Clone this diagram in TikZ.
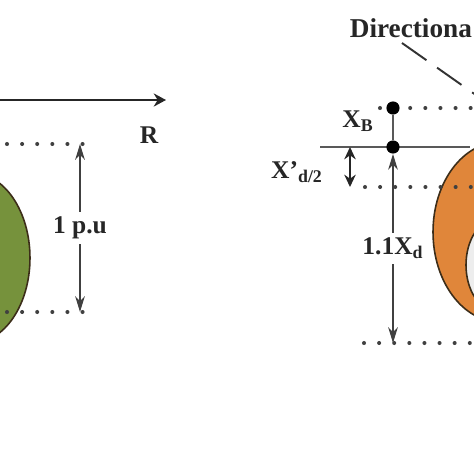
\documentclass[tikz,border=0pt]{standalone}
\usepackage{fontspec}
\setmainfont{Liberation Serif}
\usetikzlibrary{arrows.meta, positioning, calc}

\definecolor{rotorgreen}{RGB}{118,146,60}
\definecolor{rotororange}{RGB}{224,134,58}
\definecolor{rimdark}{RGB}{60,45,25}

\begin{document}
\begin{tikzpicture}[
  x=0.02cm, y=-0.02cm,
  lbl/.style={font=\fontsize{14.5}{17}\selectfont\bfseries, inner sep=1pt, text=black!85},
  axisarrow/.style={-{Stealth[length=7pt, width=7.5pt]}, line width=1.4pt, black!85},
  dimarrow/.style={{Stealth[length=9pt, width=5.5pt]}-{Stealth[length=9pt, width=5.5pt]}, line width=1pt, black!75},
  shortarrow/.style={{Stealth[length=7pt, width=6.5pt]}-{Stealth[length=7pt, width=6.5pt]}, line width=1.2pt, black!85},
  refline/.style={line width=1.2pt, black!65},
  dotline/.style={line width=2.3pt, line cap=round, dash pattern=on 0pt off 8.6pt, black!75},
  leader/.style={line width=1.1pt, black!80, dash pattern=on 17pt off 7.4pt},
  bigdot/.style={circle, fill=black, inner sep=0pt, minimum size=7.5pt}
]

\fill[white] (0,0) rectangle (474,474);
\clip (0,0) rectangle (474,474);

% rotors
\draw[fill=rotorgreen, draw=rimdark, line width=0.9pt] (-28,258) ellipse [x radius=1.16cm, y radius=1.7cm];
\draw[fill=rotororange, draw=rimdark, line width=0.9pt] (500,232) ellipse [x radius=1.34cm, y radius=1.8cm];
\draw[fill=black!7, draw=rimdark, line width=0.9pt] (495,265) ellipse [x radius=0.58cm, y radius=0.9cm];

% left side
\coordinate (rL) at (-5,100);
\coordinate (rR) at (166,100);
\draw[axisarrow] (rL) -- (rR);
\node[lbl] (Rlbl) at (149,135) {R};

\draw[dotline] (7,144) -- (86,144);
\draw[dotline] (7,312) -- (86,312);

\coordinate (puTop) at (80,144);
\coordinate (puBot) at (80,312);
\draw[dimarrow] (puTop) -- (puBot) node[lbl, midway, fill=white, inner sep=3pt] (PUlbl) {1 p.u};

% right side
\node[lbl, font=\fontsize{15.5}{18}\selectfont\bfseries, anchor=east] (Dirlbl) at (474,28) {Directiona};
\coordinate (ldA) at (402,43);
\coordinate (ldB) at (510,119);
\draw[leader] (ldA) -- (ldB);

\draw[dotline] (380,108) -- (474,108);
\draw[dotline] (365,187) -- (474,187);
\draw[dotline] (364,343) -- (474,343);

\coordinate (hL) at (320,147);
\coordinate (hR) at (470,147);
\draw[refline] (hL) -- (hR);

\node[bigdot] (DotB) at (393,108) {};
\node[bigdot] (DotE) at (393,147) {};
\draw[refline] (DotB) -- (DotE);

\coordinate (xdBot) at (393,343);
\draw[dimarrow] (DotE) -- (xdBot) node[lbl, midway, fill=white, inner sep=3pt] (XDlbl) {1.1X\textsubscript{d}};

\coordinate (xsTop) at (350,147);
\coordinate (xsBot) at (350,187);
\draw[shortarrow] (xsTop) -- (xsBot);

\node[lbl] (XBlbl) at (358,121) {X\textsubscript{B}};
\node[lbl] (XDDlbl) at (297,172) {X'\textsubscript{d/2}};

\end{tikzpicture}
\end{document}
